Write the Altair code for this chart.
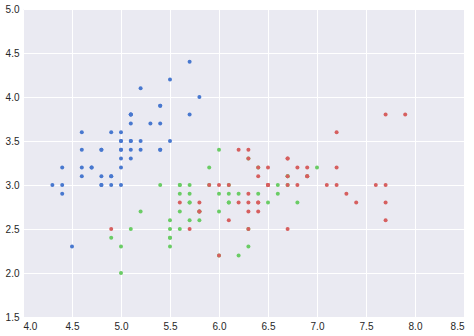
import altair as alt
import pandas as pd

setosa_x = [5.1,4.9,4.7,4.6,5.0,5.4,4.6,5.0,4.4,4.9,5.4,4.8,4.8,4.3,5.8,5.7,5.4,5.1,5.7,5.1,
            5.4,5.1,4.6,5.1,4.8,5.0,5.0,5.2,5.2,4.7,4.8,5.4,5.2,5.5,4.9,5.0,5.5,4.9,4.4,5.1,
            5.0,4.5,4.4,5.0,5.1,4.8,5.1,4.6,5.3,5.0]
setosa_y = [3.5,3.0,3.2,3.1,3.6,3.9,3.4,3.4,2.9,3.1,3.7,3.4,3.0,3.0,4.0,4.4,3.9,3.5,3.8,3.8,
            3.4,3.7,3.6,3.3,3.4,3.0,3.4,3.5,3.4,3.2,3.1,3.4,4.1,4.2,3.1,3.2,3.5,3.6,3.0,3.4,
            3.5,2.3,3.2,3.5,3.8,3.0,3.8,3.2,3.7,3.3]
versicolor_x = [7.0,6.4,6.9,5.5,6.5,5.7,6.3,4.9,6.6,5.2,5.0,5.9,6.0,6.1,5.6,6.7,5.6,5.8,6.2,5.6,
                5.9,6.1,6.3,6.1,6.4,6.6,6.8,6.7,6.0,5.7,5.5,5.5,5.8,6.0,5.4,6.0,6.7,6.3,5.6,5.5,
                5.5,6.1,5.8,5.0,5.6,5.7,5.7,6.2,5.1,5.7]
versicolor_y = [3.2,3.2,3.1,2.3,2.8,2.8,3.3,2.4,2.9,2.7,2.0,3.0,2.2,2.9,2.9,3.1,3.0,2.7,2.2,2.5,
                3.2,2.8,2.5,2.8,2.9,3.0,2.8,3.0,2.9,2.6,2.4,2.4,2.7,2.7,3.0,3.4,3.1,2.3,3.0,2.5,
                2.6,3.0,2.6,2.3,2.7,3.0,2.9,2.9,2.5,2.8]
virginica_x = [6.3,5.8,7.1,6.3,6.5,7.6,4.9,7.3,6.7,7.2,6.5,6.4,6.8,5.7,5.8,6.4,6.5,7.7,7.7,6.0,
               6.9,5.6,7.7,6.3,6.7,7.2,6.2,6.1,6.4,7.2,7.4,7.9,6.4,6.3,6.1,7.7,6.3,6.4,6.0,6.9,
               6.7,6.9,5.8,6.8,6.7,6.7,6.3,6.5,6.2,5.9]
virginica_y = [3.3,2.7,3.0,2.9,3.0,3.0,2.5,2.9,2.5,3.6,3.2,2.7,3.0,2.5,2.8,3.2,3.0,3.8,2.6,2.2,
               3.2,2.8,2.8,2.7,3.3,3.2,2.8,3.0,2.8,3.0,2.8,3.8,2.8,2.8,2.6,3.0,3.4,3.1,3.0,3.1,
               3.1,3.1,2.7,3.2,3.3,3.0,2.5,3.0,3.4,3.0]

species = ["setosa", "versicolor", "virginica"]
colors = ["#4878CF", "#6ACC65", "#D65F5F"]

rows = []
for i, (xs, ys) in enumerate([(setosa_x, setosa_y), (versicolor_x, versicolor_y), (virginica_x, virginica_y)]):
    for x, y in zip(xs, ys):
        rows.append({"sepal_length": x, "sepal_width": y, "species": species[i], "order": i})
df = pd.DataFrame(rows)

chart = alt.Chart(df).mark_circle(size=16, opacity=1).encode(
    x=alt.X("sepal_length:Q", scale=alt.Scale(domain=[4.0, 8.5], nice=False, zero=False),
            axis=alt.Axis(values=[4.0,4.5,5.0,5.5,6.0,6.5,7.0,7.5,8.0,8.5], format=".1f", title=None)),
    y=alt.Y("sepal_width:Q", scale=alt.Scale(domain=[1.5, 5.0], nice=False, zero=False),
            axis=alt.Axis(values=[1.5,2.0,2.5,3.0,3.5,4.0,4.5,5.0], format=".1f", title=None)),
    color=alt.Color("species:N", scale=alt.Scale(domain=species, range=colors), legend=None),
    order=alt.Order("order:Q"),
).properties(
    width=441, height=308,
    autosize=alt.AutoSizeParams(type="none"),
    padding={"left": 23, "top": 9, "right": 10, "bottom": 19},
    background="white",
).configure_view(
    fill="#EAEAF2", stroke=None
).configure_axis(
    grid=True, gridColor="white", gridWidth=1, gridOpacity=1,
    domain=False, ticks=False,
    labelFont="Liberation Sans", labelFontSize=10, labelColor="#262626",
    labelPadding=4,
)

chart.save("out.html", embed_options={"renderer": "svg", "actions": False})
